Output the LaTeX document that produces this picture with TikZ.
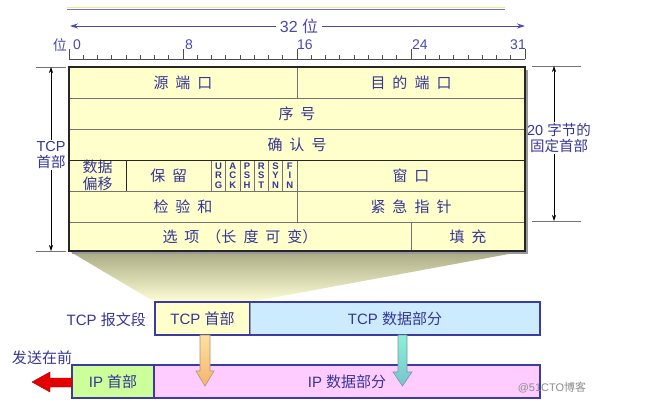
\documentclass[tikz,border=0pt]{standalone}
\usepackage{fontspec}
\setmainfont{Liberation Sans}
\newfontfamily\cjk{Noto Sans CJK SC}
\usetikzlibrary{arrows.meta}
\definecolor{txt}{RGB}{54,54,150}
\definecolor{rulecol}{RGB}{72,72,176}
\definecolor{cellyel}{RGB}{255,255,204}
\definecolor{segblue}{RGB}{60,60,160}
\definecolor{tcpdata}{RGB}{204,235,255}
\definecolor{iphead}{RGB}{204,255,153}
\definecolor{ipdata}{RGB}{255,204,255}
\definecolor{trapdark}{RGB}{168,168,130}
\definecolor{trapmid}{RGB}{222,222,176}
\definecolor{traplight}{RGB}{255,255,214}
\definecolor{topyel}{RGB}{240,240,110}
\definecolor{topblue}{RGB}{112,112,208}
\newcommand{\cjkgap}{\hspace{7pt}}
\newcommand\mkcell[7]{\node[#1, minimum width=#5pt, minimum height=#6pt] (#2) at (#3,#4) {#7};}
\begin{document}
\begin{tikzpicture}[x=1pt,y=-1pt,
  cell/.style={draw=black!55, line width=0.8pt, fill=cellyel, inner sep=0pt, outer sep=0pt,
    anchor=north west, text=txt, align=center, font=\cjk\fontsize{15}{16.5}\selectfont},
  flag/.style={cell, font=\bfseries\fontsize{9.5}{9.3}\selectfont},
  seg/.style={draw=segblue, line width=1.2pt, inner sep=0pt, outer sep=0pt, anchor=north west,
    text=txt, font=\fontsize{15}{16}\selectfont},
  lbl/.style={text=txt, inner sep=1pt, font=\fontsize{15}{16.5}\selectfont, align=center},
  rlbl/.style={text=rulecol, inner sep=0pt, font=\fontsize{14}{16}\selectfont},
  dim/.style={-{Stealth[length=6pt,width=4pt]}, black, line width=0.6pt},
  ext/.style={black!55, line width=0.8pt},
  bigarrow/.style={line width=0.6pt}
]
\useasboundingbox (0,0) rectangle (660,407);

% top cut-off band
\draw[line width=1.6pt, topyel] (67,7.4) -- (505,7.4);
\draw[line width=1.2pt, topblue] (67,9.2) -- (505,9.2);

% 32 bits arrow
\node[rlbl, font=\fontsize{16}{18}\selectfont, fill=white, inner sep=4pt] (t32) at (299,26) {32 {\cjk 位}};
\coordinate (l32) at (70,26);
\coordinate (r32) at (525,26);
\draw[-{Stealth[length=8pt,width=5pt]}, rulecol, line width=0.8pt] (t32.west) -- (l32);
\draw[-{Stealth[length=8pt,width=5pt]}, rulecol, line width=0.8pt] (t32.east) -- (r32);

% ruler
\draw[black!70, line width=0.8pt] (69,59) -- (525,59);
\foreach \i in {0,...,32}{
  \draw[black!70, line width=0.6pt] ({69+\i*14.25},59) -- ({69+\i*14.25},55);
}
\foreach \i in {0,8,16,24,32}{
  \draw[black!70, line width=0.8pt] ({69+\i*14.25},59) -- ({69+\i*14.25},49);
}
\node[rlbl, anchor=east] (wei) at (67,45) {\cjk 位};
\node[rlbl, anchor=west] (b0) at (73,45) {0};
\node[rlbl, anchor=west] (b8) at (185,45) {8};
\node[rlbl, anchor=west] (b16) at (297,45) {16};
\node[rlbl, anchor=west] (b24) at (412,45) {24};
\node[rlbl, anchor=east] (b31) at (526,45) {31};

% shadow and trapezoid
\shade[top color=trapdark, middle color=trapmid, bottom color=traplight]
  (69,251) -- (525,251) -- (250,302) -- (155,302) -- cycle;
\fill[black!40] (71.5,69.5) rectangle (527.5,253.5);

% header table
\mkcell{cell}{src}{69}{67}{228}{31}{源\cjkgap 端\cjkgap 口}
\mkcell{cell}{dst}{297}{67}{228}{31}{目\cjkgap 的\cjkgap 端\cjkgap 口}
\mkcell{cell}{seq}{69}{98}{456}{31}{序\cjkgap 号}
\mkcell{cell}{ackn}{69}{129}{456}{31}{确\cjkgap 认\cjkgap 号}
\mkcell{cell}{off}{69}{160}{57}{31}{数据\\偏移}
\mkcell{cell}{res}{126}{160}{85.5}{31}{保\cjkgap 留}
\mkcell{flag}{urg}{211.5}{160}{14.25}{31}{U\\R\\G}
\mkcell{flag}{ack}{225.75}{160}{14.25}{31}{A\\C\\K}
\mkcell{flag}{psh}{240}{160}{14.25}{31}{P\\S\\H}
\mkcell{flag}{rst}{254.25}{160}{14.25}{31}{R\\S\\T}
\mkcell{flag}{syn}{268.5}{160}{14.25}{31}{S\\Y\\N}
\mkcell{flag}{fin}{282.75}{160}{14.25}{31}{F\\I\\N}
\mkcell{cell}{win}{297}{160}{228}{31}{窗\cjkgap 口}
\mkcell{cell}{chk}{69}{191}{228}{31}{检\cjkgap 验\cjkgap 和}
\mkcell{cell}{urp}{297}{191}{228}{31}{紧\cjkgap 急\cjkgap 指\cjkgap 针}
\mkcell{cell}{opt}{69}{222}{342}{29}{选\cjkgap 项\cjkgap （长\cjkgap 度\cjkgap 可\cjkgap 变）}
\mkcell{cell}{pad}{411}{222}{114}{29}{填\cjkgap 充}
\draw[black!85, line width=1pt] (ackn.south west) -- (ackn.south east);
\draw[black!85, line width=1pt] (off.north east) -- (off.south east);
\draw[black!85, line width=1.3pt] (src.north west) rectangle (pad.south east);

% left dimension
\coordinate (lt1) at (36,67); \coordinate (lt2) at (66,67);
\coordinate (lb1) at (36,251); \coordinate (lb2) at (66,251);
\draw[ext] (lt1) -- (lt2);
\draw[ext] (lb1) -- (lb2);
\node[lbl, font=\fontsize{14.5}{16}\selectfont] (tcph) at (51,155) {TCP\\{\cjk 首部}};
\coordinate (la) at (51,67); \coordinate (lz) at (51,251);
\draw[dim] (tcph.north) -- (la);
\draw[dim] (tcph.south) -- (lz);

% right dimension
\coordinate (rt1) at (532,66); \coordinate (rt2) at (581,66);
\coordinate (rb1) at (532,221); \coordinate (rb2) at (581,221);
\draw[ext] (rt1) -- (rt2);
\draw[ext] (rb1) -- (rb2);
\node[lbl, font=\fontsize{14.5}{16}\selectfont] (fix) at (559,138) {20 {\cjk 字节的}\\{\cjk 固定首部}};
\coordinate (ra) at (554,66); \coordinate (rz) at (554,221);
\draw[dim] (fix.north -| ra) -- (ra);
\draw[dim] (fix.south -| rz) -- (rz);

% TCP segment
\node[lbl, anchor=east] (seglbl) at (147,320) {TCP {\cjk 报文段}};
\node[seg, fill=cellyel, minimum width=95pt, minimum height=33pt] (sh) at (155,302) {TCP {\cjk 首部}};
\node[seg, fill=tcpdata, minimum width=290pt, minimum height=33pt] (sd) at (250,302) {TCP {\cjk 数据部分}};
\draw[black!40, line width=1pt] ([yshift=-0.6pt]sh.north east) -- ([yshift=0.6pt]sh.south east);

% IP datagram
\node[lbl, anchor=center] (send) at (42,358) {\cjk 发送在前};
\node[seg, fill=iphead, minimum width=82pt, minimum height=33pt] (ih) at (72,365) {IP {\cjk 首部}};
\node[seg, fill=ipdata, minimum width=386pt, minimum height=33pt] (id) at (154,365) {IP {\cjk 数据部分}};

% red arrow (send first)
\fill[red!90!black, draw=red!60!black, line width=0.4pt]
  (72,378) -- (50,378) -- (50,372) -- (32,382) -- (50,392) -- (50,387) -- (72,387) -- cycle;

% down arrows
\shade[top color={rgb,255:red,255;green,224;blue,160}, bottom color={rgb,255:red,245;green,180;blue,110},
  draw={rgb,255:red,170;green,150;blue,120}, bigarrow]
  (200,335) -- (210,335) -- (210,371) -- (214,371) -- (205,386) -- (196,371) -- (200,371) -- cycle;
\shade[top color={rgb,255:red,140;green,240;blue,215}, bottom color={rgb,255:red,120;green,195;blue,205},
  draw={rgb,255:red,120;green,150;blue,160}, bigarrow]
  (398,335) -- (407,335) -- (407,372) -- (412,372) -- (402.5,386) -- (393,372) -- (398,372) -- cycle;

% watermark
\node[text=black!45, inner sep=0pt, font=\fontsize{11}{12}\selectfont] (wm) at (552,388) {@51CTO{\cjk 博客}};
\end{tikzpicture}
\end{document}
